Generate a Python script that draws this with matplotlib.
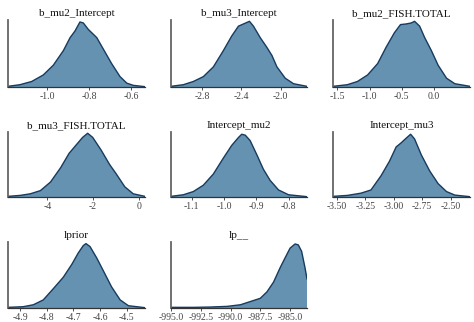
import matplotlib
matplotlib.use("Agg")
import matplotlib.pyplot as plt

plt.rcParams["font.family"] = ["Liberation Serif", "DejaVu Serif"]

FILL = "#6592b0"
EDGE = "#173a5e"

# posterior density curves (x, relative height)
titles = ["b_mu2_Intercept", "b_mu3_Intercept", "b_mu2_FISH.TOTAL",
          "b_mu3_FISH.TOTAL", "Intercept_mu2", "Intercept_mu3",
          "lprior", "lp__"]

x_b_mu2_int = [-1.186, -1.129, -1.073, -1.018, -0.970, -0.922, -0.890, -0.867, -0.843,
               -0.827, -0.803, -0.763, -0.732, -0.692, -0.652, -0.620, -0.589, -0.533]
y_b_mu2_int = [0.01, 0.035, 0.084, 0.183, 0.332, 0.554, 0.752, 0.851, 0.990,
               0.975, 0.876, 0.752, 0.579, 0.356, 0.158, 0.059, 0.025, 0.005]

x_b_mu3_int = [-3.121, -2.995, -2.892, -2.790, -2.687, -2.585, -2.499, -2.431, -2.379,
               -2.318, -2.277, -2.208, -2.140, -2.088, -2.037, -1.952, -1.867, -1.729]
y_b_mu3_int = [0.01, 0.035, 0.084, 0.158, 0.307, 0.554, 0.777, 0.926, 0.960,
               1.0, 0.926, 0.752, 0.604, 0.480, 0.307, 0.134, 0.050, 0.01]

x_b_mu2_fish = [-1.567, -1.344, -1.188, -1.031, -0.875, -0.744, -0.614, -0.520, -0.431,
                -0.353, -0.302, -0.223, -0.145, -0.041, 0.063, 0.194, 0.323, 0.558]
y_b_mu2_fish = [0.01, 0.035, 0.084, 0.183, 0.356, 0.604, 0.827, 0.95, 0.96,
                0.975, 1.0, 0.926, 0.752, 0.554, 0.332, 0.134, 0.050, 0.01]

x_b_mu3_fish = [-5.733, -5.2, -4.756, -4.311, -3.867, -3.422, -3.052, -2.756, -2.459,
                -2.237, -2.015, -1.644, -1.274, -0.978, -0.607, -0.236, 0.28]
y_b_mu3_fish = [0.01, 0.025, 0.05, 0.10, 0.235, 0.46, 0.685, 0.81, 0.935,
                1.0, 0.935, 0.735, 0.51, 0.36, 0.16, 0.05, 0.01]

x_int_mu2 = [-1.164, -1.126, -1.095, -1.064, -1.033, -1.002, -0.976, -0.955, -0.945,
             -0.934, -0.919, -0.898, -0.878, -0.857, -0.831, -0.800, -0.743]
y_int_mu2 = [0.01, 0.035, 0.085, 0.185, 0.36, 0.61, 0.81, 0.935, 0.985,
             0.97, 0.885, 0.66, 0.435, 0.26, 0.11, 0.035, 0.005]

x_int_mu3 = [-3.533, -3.406, -3.288, -3.200, -3.111, -3.038, -2.979, -2.935, -2.899,
             -2.852, -2.817, -2.758, -2.685, -2.611, -2.537, -2.464, -2.331]
y_int_mu3 = [0.01, 0.025, 0.06, 0.11, 0.335, 0.56, 0.785, 0.85, 0.91,
             0.985, 0.91, 0.66, 0.41, 0.21, 0.085, 0.03, 0.005]

x_lprior = [-4.945, -4.888, -4.850, -4.813, -4.775, -4.738, -4.706, -4.682, -4.663,
            -4.653, -4.638, -4.613, -4.588, -4.557, -4.525, -4.494, -4.432]
y_lprior = [0.01, 0.02, 0.05, 0.125, 0.30, 0.475, 0.675, 0.85, 0.965,
            0.995, 0.95, 0.775, 0.575, 0.325, 0.125, 0.035, 0.005]

x_lp = [-994.96, -993.06, -991.67, -990.28, -989.17, -988.33, -987.5, -986.94, -986.39,
        -985.83, -985.42, -985.0, -984.58, -984.31, -984.03, -983.75, -983.58]
y_lp = [0.01, 0.01, 0.015, 0.025, 0.05, 0.10, 0.15, 0.25, 0.40,
        0.625, 0.775, 0.925, 0.99, 0.975, 0.875, 0.625, 0.45]

curves = [(x_b_mu2_int, y_b_mu2_int), (x_b_mu3_int, y_b_mu3_int),
          (x_b_mu2_fish, y_b_mu2_fish), (x_b_mu3_fish, y_b_mu3_fish),
          (x_int_mu2, y_int_mu2), (x_int_mu3, y_int_mu3),
          (x_lprior, y_lprior), (x_lp, y_lp)]

ticks = [[-1.0, -0.8, -0.6], [-2.8, -2.4, -2.0], [-1.5, -1.0, -0.5, 0.0],
         [-4, -2, 0], [-1.1, -1.0, -0.9, -0.8], [-3.50, -3.25, -3.00, -2.75, -2.50],
         [-4.9, -4.8, -4.7, -4.6, -4.5], [-995.0, -992.5, -990.0, -987.5, -985.0]]
tick_fmt = ["%.1f", "%.1f", "%.1f", "%d", "%.1f", "%.2f", "%.1f", "%.1f"]

W, H = 474, 322
cols = [(8, 145), (171, 307), (333, 470)]
rows = [(20, 87), (132, 197), (242, 308)]

fig = plt.figure(figsize=(W / 100, H / 100), dpi=100)
fig.patch.set_facecolor("white")

for i, (title, (xs, ys)) in enumerate(zip(titles, curves)):
    c0, c1 = cols[i % 3]
    r0, r1 = rows[i // 3]
    ax = fig.add_axes([c0 / W, 1 - r1 / H, (c1 - c0) / W, (r1 - r0) / H])
    ax.fill_between(xs, 0, ys, facecolor=FILL, edgecolor="none")
    ax.plot(xs, ys, color=EDGE, lw=1.0)
    ax.set_xlim(xs[0], xs[-1])
    ax.set_ylim(0, 1.02)
    ax.set_xticks(ticks[i])
    ax.set_xticklabels([tick_fmt[i] % t for t in ticks[i]])
    ax.set_yticks([])
    for s in ("top", "right"):
        ax.spines[s].set_visible(False)
    ax.spines["left"].set_color("#666666")
    ax.spines["left"].set_linewidth(1.3)
    ax.spines["bottom"].set_color("#333333")
    ax.spines["bottom"].set_linewidth(0.9)
    ax.tick_params(axis="x", length=2, width=0.6, pad=1.5, labelsize=7,
                   colors="#333333", labelcolor="#444444")
    ax.set_title(title, fontsize=8, pad=3, color="#111111")

fig.savefig("out.png", dpi=100)
